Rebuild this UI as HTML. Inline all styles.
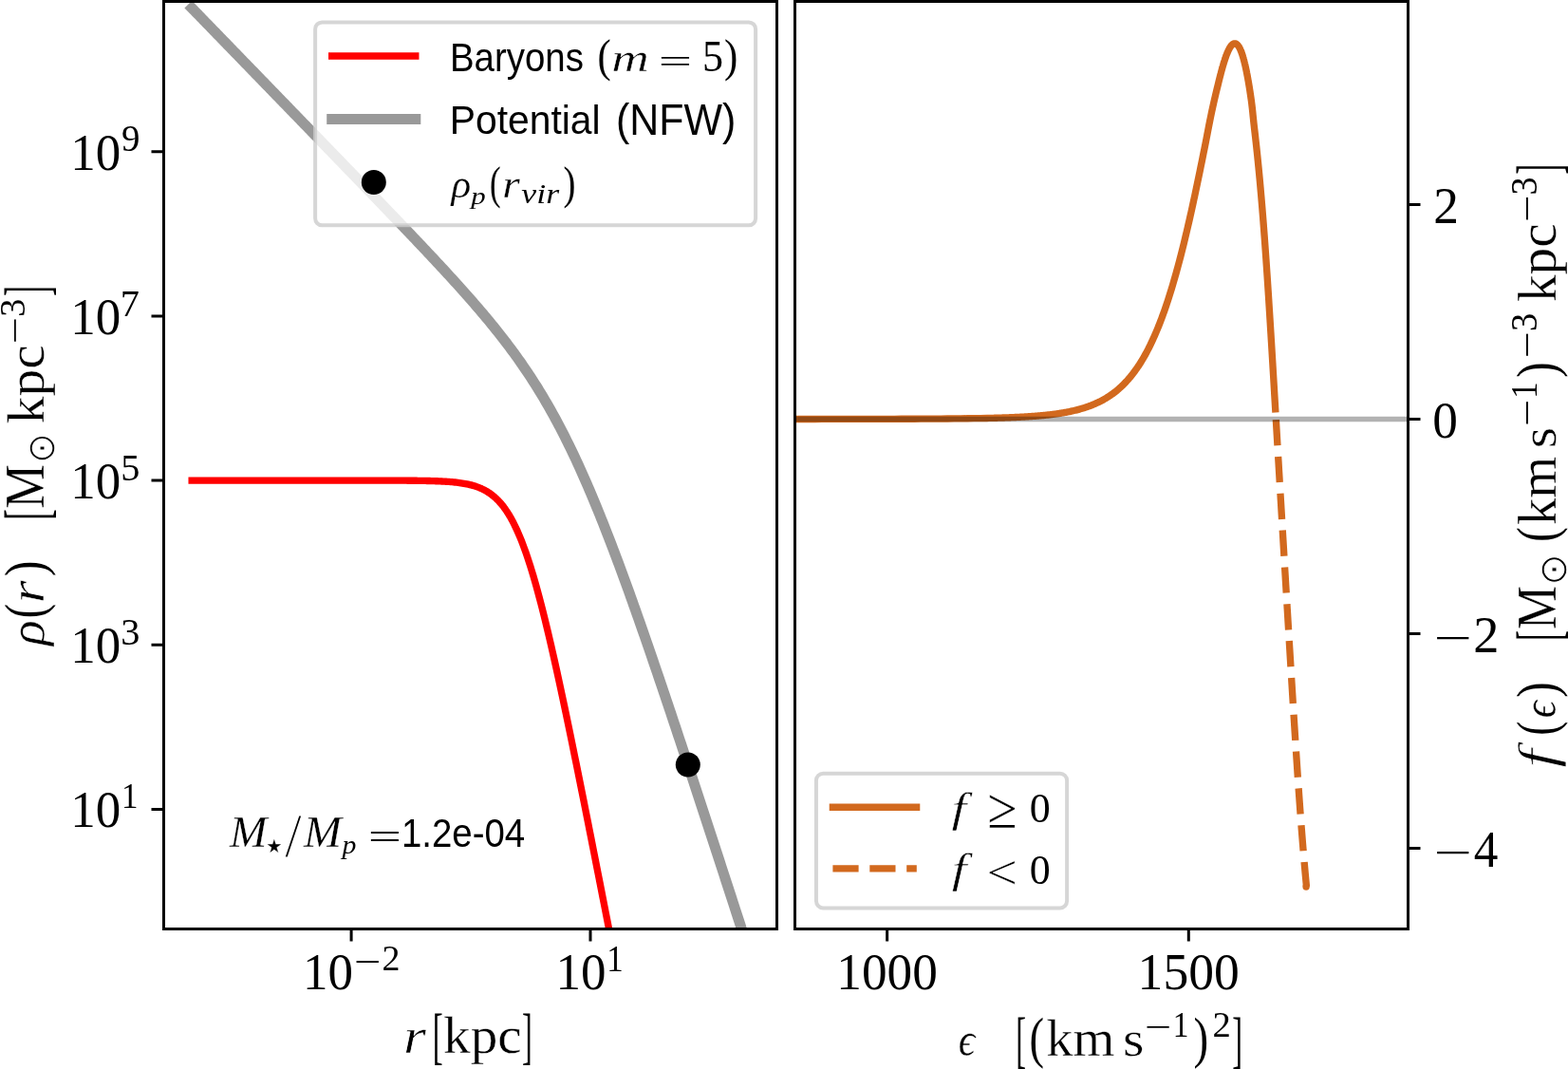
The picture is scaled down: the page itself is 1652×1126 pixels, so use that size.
<!DOCTYPE html>
<html lang="en"><head><meta charset="utf-8"><title>Density profiles and distribution function</title>
<style>
html,body{margin:0;padding:0;background:#fff}
body{width:1652px;height:1126px}
svg{display:block}
text.r{font-family:"Liberation Serif","DejaVu Serif",serif}
text.i{font-family:"Liberation Serif","DejaVu Serif",serif;font-style:italic}
text.s{font-family:"Liberation Sans","DejaVu Sans",sans-serif}
text.d{font-family:"DejaVu Sans","Liberation Sans",sans-serif}
</style></head>
<body>
<svg width="1652" height="1126" viewBox="0 0 1652 1126">
<defs><clipPath id="c1"><rect x="172.5" y="1.5" width="646.0" height="977.0"/></clipPath><clipPath id="c2"><rect x="837.5" y="1.5" width="646.0" height="977.0"/></clipPath></defs>
<rect width="1652" height="1126" fill="#fff"/>
<g clip-path="url(#c1)" fill="none" stroke-linejoin="round">
<path d="M202.15,506.08 L203.71,506.08 L205.26,506.08 L206.82,506.08 L208.38,506.08 L209.94,506.08 L211.49,506.08 L213.05,506.08 L214.61,506.08 L216.17,506.08 L217.72,506.08 L219.28,506.08 L220.84,506.08 L222.40,506.08 L223.95,506.08 L225.51,506.08 L227.07,506.08 L228.62,506.08 L230.18,506.08 L231.74,506.08 L233.30,506.08 L234.85,506.08 L236.41,506.08 L237.97,506.08 L239.53,506.08 L241.08,506.08 L242.64,506.08 L244.20,506.08 L245.76,506.08 L247.31,506.08 L248.87,506.08 L250.43,506.08 L251.98,506.08 L253.54,506.08 L255.10,506.08 L256.66,506.08 L258.21,506.08 L259.77,506.08 L261.33,506.08 L262.89,506.08 L264.44,506.08 L266.00,506.08 L267.56,506.08 L269.12,506.08 L270.67,506.08 L272.23,506.08 L273.79,506.08 L275.34,506.08 L276.90,506.08 L278.46,506.08 L280.02,506.08 L281.57,506.08 L283.13,506.08 L284.69,506.08 L286.25,506.08 L287.80,506.08 L289.36,506.08 L290.92,506.08 L292.48,506.08 L294.03,506.08 L295.59,506.08 L297.15,506.08 L298.70,506.08 L300.26,506.08 L301.82,506.08 L303.38,506.08 L304.93,506.08 L306.49,506.08 L308.05,506.08 L309.61,506.08 L311.16,506.08 L312.72,506.08 L314.28,506.08 L315.84,506.08 L317.39,506.08 L318.95,506.08 L320.51,506.08 L322.07,506.08 L323.62,506.08 L325.18,506.08 L326.74,506.08 L328.29,506.08 L329.85,506.08 L331.41,506.08 L332.97,506.08 L334.52,506.08 L336.08,506.08 L337.64,506.08 L339.20,506.08 L340.75,506.08 L342.31,506.08 L343.87,506.08 L345.43,506.08 L346.98,506.08 L348.54,506.08 L350.10,506.08 L351.65,506.08 L353.21,506.08 L354.77,506.08 L356.33,506.08 L357.88,506.08 L359.44,506.08 L361.00,506.08 L362.56,506.08 L364.11,506.08 L365.67,506.08 L367.23,506.08 L368.79,506.08 L370.34,506.08 L371.90,506.09 L373.46,506.09 L375.01,506.09 L376.57,506.09 L378.13,506.09 L379.69,506.09 L381.24,506.09 L382.80,506.09 L384.36,506.09 L385.92,506.09 L387.47,506.09 L389.03,506.09 L390.59,506.09 L392.15,506.10 L393.70,506.10 L395.26,506.10 L396.82,506.10 L398.37,506.10 L399.93,506.10 L401.49,506.11 L403.05,506.11 L404.60,506.11 L406.16,506.12 L407.72,506.12 L409.28,506.12 L410.83,506.13 L412.39,506.13 L413.95,506.13 L415.51,506.14 L417.06,506.14 L418.62,506.15 L420.18,506.16 L421.73,506.16 L423.29,506.17 L424.85,506.18 L426.41,506.19 L427.96,506.20 L429.52,506.21 L431.08,506.22 L432.64,506.23 L434.19,506.24 L435.75,506.26 L437.31,506.27 L438.87,506.29 L440.42,506.31 L441.98,506.33 L443.54,506.35 L445.09,506.38 L446.65,506.40 L448.21,506.43 L449.77,506.46 L451.32,506.50 L452.88,506.53 L454.44,506.58 L456.00,506.62 L457.55,506.67 L459.11,506.72 L460.67,506.78 L462.23,506.84 L463.78,506.91 L465.34,506.98 L466.90,507.06 L468.45,507.15 L470.01,507.24 L471.57,507.34 L473.13,507.45 L474.68,507.58 L476.24,507.71 L477.80,507.85 L479.36,508.01 L480.91,508.18 L482.47,508.36 L484.03,508.56 L485.59,508.78 L487.14,509.02 L488.70,509.28 L490.26,509.56 L491.81,509.86 L493.37,510.19 L494.93,510.55 L496.49,510.94 L498.04,511.36 L499.60,511.81 L501.16,512.31 L502.72,512.85 L504.27,513.43 L505.83,514.05 L507.39,514.73 L508.95,515.47 L510.50,516.26 L512.06,517.12 L513.62,518.04 L515.18,519.04 L516.73,520.11 L518.29,521.26 L519.85,522.51 L521.40,523.84 L522.96,525.27 L524.52,526.81 L526.08,528.45 L527.63,530.21 L529.19,532.09 L530.75,534.09 L532.31,536.23 L533.86,538.50 L535.42,540.91 L536.98,543.47 L538.54,546.19 L540.09,549.05 L541.65,552.08 L543.21,555.27 L544.76,558.62 L546.32,562.14 L547.88,565.84 L549.44,569.70 L550.99,573.73 L552.55,577.94 L554.11,582.31 L555.67,586.86 L557.22,591.57 L558.78,596.45 L560.34,601.49 L561.90,606.68 L563.45,612.03 L565.01,617.54 L566.57,623.18 L568.12,628.97 L569.68,634.90 L571.24,640.95 L572.80,647.13 L574.35,653.42 L575.91,659.83 L577.47,666.35 L579.03,672.97 L580.58,679.69 L582.14,686.49 L583.70,693.39 L585.26,700.36 L586.81,707.41 L588.37,714.53 L589.93,721.72 L591.48,728.97 L593.04,736.27 L594.60,743.63 L596.16,751.05 L597.71,758.50 L599.27,766.01 L600.83,773.55 L602.39,781.13 L603.94,788.75 L605.50,796.39 L607.06,804.07 L608.62,811.78 L610.17,819.51 L611.73,827.26 L613.29,835.04 L614.84,842.83 L616.40,850.65 L617.96,858.48 L619.52,866.32 L621.07,874.19 L622.63,882.06 L624.19,889.95 L625.75,897.85 L627.30,905.76 L628.86,913.68 L630.42,921.61 L631.98,929.54 L633.53,937.48 L635.09,945.44 L636.65,953.39 L638.20,961.35 L639.76,969.32 L641.32,977.30 L642.88,985.27 L644.43,993.26 L645.99,1001.24 L647.55,1009.23 L649.11,1017.22 L650.66,1025.22 L652.22,1033.22 L653.78,1041.22 L655.34,1049.22 L656.89,1057.22 L658.45,1065.23 L660.01,1073.24 L661.56,1081.25 L663.12,1089.26 L664.68,1097.27" stroke="#ff0000" stroke-width="7.35" stroke-linecap="square"/>
<path d="M202.15,8.50 L203.71,10.11 L205.26,11.72 L206.82,13.32 L208.38,14.93 L209.94,16.53 L211.49,18.14 L213.05,19.74 L214.61,21.35 L216.17,22.96 L217.72,24.56 L219.28,26.17 L220.84,27.77 L222.40,29.38 L223.95,30.99 L225.51,32.59 L227.07,34.20 L228.62,35.80 L230.18,37.41 L231.74,39.01 L233.30,40.62 L234.85,42.23 L236.41,43.83 L237.97,45.44 L239.53,47.04 L241.08,48.65 L242.64,50.26 L244.20,51.86 L245.76,53.47 L247.31,55.07 L248.87,56.68 L250.43,58.29 L251.98,59.89 L253.54,61.50 L255.10,63.10 L256.66,64.71 L258.21,66.32 L259.77,67.92 L261.33,69.53 L262.89,71.13 L264.44,72.74 L266.00,74.35 L267.56,75.95 L269.12,77.56 L270.67,79.16 L272.23,80.77 L273.79,82.38 L275.34,83.98 L276.90,85.59 L278.46,87.20 L280.02,88.80 L281.57,90.41 L283.13,92.01 L284.69,93.62 L286.25,95.23 L287.80,96.83 L289.36,98.44 L290.92,100.05 L292.48,101.65 L294.03,103.26 L295.59,104.86 L297.15,106.47 L298.70,108.08 L300.26,109.68 L301.82,111.29 L303.38,112.90 L304.93,114.50 L306.49,116.11 L308.05,117.72 L309.61,119.32 L311.16,120.93 L312.72,122.54 L314.28,124.15 L315.84,125.75 L317.39,127.36 L318.95,128.97 L320.51,130.57 L322.07,132.18 L323.62,133.79 L325.18,135.40 L326.74,137.00 L328.29,138.61 L329.85,140.22 L331.41,141.83 L332.97,143.43 L334.52,145.04 L336.08,146.65 L337.64,148.26 L339.20,149.87 L340.75,151.47 L342.31,153.08 L343.87,154.69 L345.43,156.30 L346.98,157.91 L348.54,159.52 L350.10,161.13 L351.65,162.74 L353.21,164.34 L354.77,165.95 L356.33,167.56 L357.88,169.17 L359.44,170.78 L361.00,172.39 L362.56,174.00 L364.11,175.61 L365.67,177.22 L367.23,178.84 L368.79,180.45 L370.34,182.06 L371.90,183.67 L373.46,185.28 L375.01,186.89 L376.57,188.51 L378.13,190.12 L379.69,191.73 L381.24,193.35 L382.80,194.96 L384.36,196.57 L385.92,198.19 L387.47,199.80 L389.03,201.42 L390.59,203.03 L392.15,204.65 L393.70,206.27 L395.26,207.88 L396.82,209.50 L398.37,211.12 L399.93,212.74 L401.49,214.36 L403.05,215.97 L404.60,217.59 L406.16,219.22 L407.72,220.84 L409.28,222.46 L410.83,224.08 L412.39,225.71 L413.95,227.33 L415.51,228.95 L417.06,230.58 L418.62,232.21 L420.18,233.84 L421.73,235.46 L423.29,237.09 L424.85,238.72 L426.41,240.36 L427.96,241.99 L429.52,243.62 L431.08,245.26 L432.64,246.90 L434.19,248.53 L435.75,250.17 L437.31,251.81 L438.87,253.46 L440.42,255.10 L441.98,256.75 L443.54,258.39 L445.09,260.04 L446.65,261.69 L448.21,263.35 L449.77,265.00 L451.32,266.66 L452.88,268.32 L454.44,269.98 L456.00,271.64 L457.55,273.31 L459.11,274.98 L460.67,276.65 L462.23,278.32 L463.78,280.00 L465.34,281.68 L466.90,283.36 L468.45,285.05 L470.01,286.74 L471.57,288.44 L473.13,290.13 L474.68,291.84 L476.24,293.54 L477.80,295.25 L479.36,296.97 L480.91,298.68 L482.47,300.41 L484.03,302.14 L485.59,303.87 L487.14,305.61 L488.70,307.35 L490.26,309.10 L491.81,310.86 L493.37,312.62 L494.93,314.39 L496.49,316.17 L498.04,317.95 L499.60,319.74 L501.16,321.54 L502.72,323.35 L504.27,325.16 L505.83,326.98 L507.39,328.81 L508.95,330.65 L510.50,332.50 L512.06,334.36 L513.62,336.23 L515.18,338.11 L516.73,340.00 L518.29,341.90 L519.85,343.82 L521.40,345.74 L522.96,347.68 L524.52,349.63 L526.08,351.60 L527.63,353.58 L529.19,355.57 L530.75,357.58 L532.31,359.60 L533.86,361.64 L535.42,363.70 L536.98,365.77 L538.54,367.86 L540.09,369.97 L541.65,372.09 L543.21,374.23 L544.76,376.40 L546.32,378.58 L547.88,380.79 L549.44,383.01 L550.99,385.26 L552.55,387.53 L554.11,389.82 L555.67,392.13 L557.22,394.47 L558.78,396.84 L560.34,399.23 L561.90,401.64 L563.45,404.08 L565.01,406.55 L566.57,409.04 L568.12,411.56 L569.68,414.11 L571.24,416.69 L572.80,419.30 L574.35,421.94 L575.91,424.60 L577.47,427.30 L579.03,430.03 L580.58,432.79 L582.14,435.58 L583.70,438.41 L585.26,441.26 L586.81,444.15 L588.37,447.08 L589.93,450.03 L591.48,453.02 L593.04,456.05 L594.60,459.10 L596.16,462.19 L597.71,465.32 L599.27,468.48 L600.83,471.67 L602.39,474.90 L603.94,478.16 L605.50,481.46 L607.06,484.79 L608.62,488.15 L610.17,491.55 L611.73,494.99 L613.29,498.45 L614.84,501.95 L616.40,505.48 L617.96,509.05 L619.52,512.65 L621.07,516.27 L622.63,519.94 L624.19,523.63 L625.75,527.35 L627.30,531.11 L628.86,534.89 L630.42,538.71 L631.98,542.55 L633.53,546.42 L635.09,550.32 L636.65,554.25 L638.20,558.21 L639.76,562.19 L641.32,566.20 L642.88,570.23 L644.43,574.29 L645.99,578.37 L647.55,582.48 L649.11,586.61 L650.66,590.76 L652.22,594.94 L653.78,599.13 L655.34,603.35 L656.89,607.59 L658.45,611.85 L660.01,616.13 L661.56,620.42 L663.12,624.74 L664.68,629.07 L666.24,633.42 L667.79,637.79 L669.35,642.17 L670.91,646.57 L672.47,650.99 L674.02,655.42 L675.58,659.86 L677.14,664.32 L678.70,668.79 L680.25,673.27 L681.81,677.77 L683.37,682.28 L684.92,686.80 L686.48,691.33 L688.04,695.87 L689.60,700.42 L691.15,704.99 L692.71,709.56 L694.27,714.14 L695.83,718.74 L697.38,723.34 L698.94,727.94 L700.50,732.56 L702.06,737.19 L703.61,741.82 L705.17,746.46 L706.73,751.11 L708.28,755.76 L709.84,760.42 L711.40,765.09 L712.96,769.76 L714.51,774.44 L716.07,779.12 L717.63,783.81 L719.19,788.50 L720.74,793.20 L722.30,797.91 L723.86,802.61 L725.42,807.33 L726.97,812.05 L728.53,816.77 L730.09,821.49 L731.65,826.22 L733.20,830.95 L734.76,835.69 L736.32,840.43 L737.87,845.17 L739.43,849.92 L740.99,854.66 L742.55,859.42 L744.10,864.17 L745.66,868.93 L747.22,873.68 L748.78,878.45 L750.33,883.21 L751.89,887.98 L753.45,892.74 L755.01,897.51 L756.56,902.29 L758.12,907.06 L759.68,911.84 L761.23,916.61 L762.79,921.39 L764.35,926.17 L765.91,930.95 L767.46,935.74 L769.02,940.52 L770.58,945.31 L772.14,950.10 L773.69,954.89 L775.25,959.68 L776.81,964.47 L778.37,969.26 L779.92,974.05 L781.48,978.85 L783.04,983.64 L784.59,988.44 L786.15,993.23 L787.71,998.03 L789.27,1002.83 L790.82,1007.63 L792.38,1012.43 L793.94,1017.23 L795.50,1022.03 L797.05,1026.84 L798.61,1031.64 L800.17,1036.44 L801.73,1041.25 L803.28,1046.05 L804.84,1050.86 L806.40,1055.66 L807.95,1060.47 L809.51,1065.27 L811.07,1070.08 L812.63,1074.89 L814.18,1079.70 L815.74,1084.50 L817.30,1089.31 L818.86,1094.12 L820.41,1098.93" stroke="#000" stroke-opacity="0.4" stroke-width="11" stroke-linecap="square"/>
<circle cx="724.8" cy="805.5" r="13" fill="#000" stroke="none"/>
</g>
<g clip-path="url(#c2)" fill="none" stroke-linejoin="round">
<path d="M838.00,441.46 L844.97,441.46 L851.93,441.46 L858.90,441.45 L865.86,441.44 L872.83,441.44 L879.79,441.43 L886.76,441.42 L893.72,441.41 L900.69,441.40 L907.66,441.39 L914.62,441.37 L921.59,441.36 L928.55,441.34 L935.52,441.32 L942.48,441.30 L949.45,441.27 L956.41,441.25 L963.38,441.22 L970.34,441.18 L977.31,441.14 L984.28,441.10 L991.24,441.05 L998.21,440.99 L1005.17,440.93 L1012.14,440.86 L1019.10,440.78 L1026.07,440.69 L1033.03,440.59 L1040.00,440.48 L1042.00,440.44 L1042.94,440.41 L1043.88,440.39 L1044.83,440.37 L1045.77,440.34 L1046.71,440.32 L1047.65,440.29 L1048.59,440.27 L1049.54,440.24 L1050.48,440.21 L1051.42,440.18 L1052.36,440.16 L1053.31,440.13 L1054.25,440.10 L1055.19,440.07 L1056.13,440.04 L1057.07,440.01 L1058.02,439.97 L1058.96,439.94 L1059.90,439.91 L1060.84,439.87 L1061.78,439.84 L1062.73,439.80 L1063.67,439.77 L1064.61,439.73 L1065.55,439.69 L1066.49,439.65 L1067.44,439.61 L1068.38,439.57 L1069.32,439.53 L1070.26,439.48 L1071.20,439.44 L1072.15,439.40 L1073.09,439.35 L1074.03,439.30 L1074.97,439.25 L1075.92,439.20 L1076.86,439.15 L1077.80,439.10 L1078.74,439.05 L1079.68,438.99 L1080.63,438.94 L1081.57,438.88 L1082.51,438.82 L1083.45,438.76 L1084.39,438.70 L1085.34,438.64 L1086.28,438.57 L1087.22,438.51 L1088.16,438.44 L1089.10,438.37 L1090.05,438.30 L1090.99,438.23 L1091.93,438.15 L1092.87,438.08 L1093.81,438.00 L1094.76,437.92 L1095.70,437.84 L1096.64,437.75 L1097.58,437.67 L1098.53,437.58 L1099.47,437.49 L1100.41,437.39 L1101.35,437.30 L1102.29,437.20 L1103.24,437.10 L1104.18,437.00 L1105.12,436.89 L1106.06,436.78 L1107.00,436.67 L1107.95,436.56 L1108.89,436.44 L1109.83,436.32 L1110.77,436.20 L1111.71,436.07 L1112.66,435.95 L1113.60,435.81 L1114.54,435.68 L1115.48,435.54 L1116.42,435.39 L1117.37,435.25 L1118.31,435.10 L1119.25,434.94 L1120.19,434.78 L1121.14,434.62 L1122.08,434.45 L1123.02,434.28 L1123.96,434.10 L1124.90,433.92 L1125.85,433.74 L1126.79,433.55 L1127.73,433.35 L1128.67,433.15 L1129.61,432.95 L1130.56,432.73 L1131.50,432.52 L1132.44,432.29 L1133.38,432.06 L1134.32,431.83 L1135.27,431.59 L1136.21,431.34 L1137.15,431.09 L1138.09,430.83 L1139.03,430.56 L1139.98,430.28 L1140.92,430.00 L1141.86,429.71 L1142.80,429.41 L1143.75,429.11 L1144.69,428.79 L1145.63,428.47 L1146.57,428.14 L1147.51,427.80 L1148.46,427.45 L1149.40,427.09 L1150.34,426.72 L1151.28,426.34 L1152.22,425.95 L1153.17,425.56 L1154.11,425.15 L1155.05,424.73 L1155.99,424.29 L1156.93,423.85 L1157.88,423.40 L1158.82,422.93 L1159.76,422.45 L1160.70,421.96 L1161.64,421.45 L1162.59,420.93 L1163.53,420.40 L1164.47,419.85 L1165.41,419.29 L1166.36,418.71 L1167.30,418.12 L1168.24,417.51 L1169.18,416.89 L1170.12,416.25 L1171.07,415.59 L1172.01,414.91 L1172.95,414.22 L1173.89,413.51 L1174.83,412.78 L1175.78,412.03 L1176.72,411.27 L1177.66,410.48 L1178.60,409.67 L1179.54,408.84 L1180.49,407.99 L1181.43,407.11 L1182.37,406.22 L1183.31,405.30 L1184.25,404.36 L1185.20,403.39 L1186.14,402.40 L1187.08,401.38 L1188.02,400.34 L1188.97,399.27 L1189.91,398.18 L1190.85,397.05 L1191.79,395.90 L1192.73,394.72 L1193.68,393.51 L1194.62,392.27 L1195.56,391.00 L1196.50,389.70 L1197.44,388.37 L1198.39,387.00 L1199.33,385.60 L1200.27,384.17 L1201.21,382.70 L1202.15,381.20 L1203.10,379.66 L1204.04,378.09 L1204.98,376.47 L1205.92,374.82 L1206.86,373.14 L1207.81,371.41 L1208.75,369.64 L1209.69,367.84 L1210.63,365.99 L1211.58,364.10 L1212.52,362.16 L1213.46,360.19 L1214.40,358.17 L1215.34,356.10 L1216.29,353.99 L1217.23,351.84 L1218.17,349.64 L1219.11,347.39 L1220.05,345.09 L1221.00,342.75 L1221.94,340.36 L1222.88,337.92 L1223.82,335.43 L1224.76,332.89 L1225.71,330.29 L1226.65,327.65 L1227.59,324.96 L1228.53,322.21 L1229.47,319.41 L1230.42,316.56 L1231.36,313.65 L1232.30,310.70 L1233.24,307.68 L1234.19,304.62 L1235.13,301.50 L1236.07,298.32 L1237.01,295.09 L1237.95,291.81 L1238.90,288.47 L1239.84,285.08 L1240.78,281.64 L1241.72,278.14 L1242.66,274.58 L1243.61,270.98 L1244.55,267.31 L1245.49,263.60 L1246.43,259.83 L1247.37,256.01 L1248.32,252.14 L1249.26,248.22 L1250.20,244.25 L1251.14,240.23 L1252.08,236.16 L1253.03,232.05 L1253.97,227.88 L1254.91,223.68 L1255.85,219.42 L1256.80,215.13 L1257.74,210.79 L1258.68,206.42 L1259.62,202.00 L1260.56,197.55 L1261.51,193.06 L1262.45,188.54 L1263.39,183.99 L1264.33,179.41 L1265.27,174.81 L1266.22,170.18 L1267.16,165.52 L1268.10,160.85 L1269.04,156.16 L1269.98,151.45 L1270.93,146.65 L1271.87,141.76 L1272.81,136.86 L1273.75,132.02 L1274.69,127.27 L1275.64,122.63 L1276.58,118.12 L1277.52,113.73 L1278.46,109.45 L1279.41,105.29 L1280.35,101.23 L1281.29,97.26 L1282.23,93.36 L1283.17,89.51 L1284.12,85.67 L1285.06,81.89 L1286.00,78.23 L1286.10,77.85 L1286.20,77.48 L1286.29,77.11 L1286.39,76.74 L1286.49,76.37 L1286.59,76.01 L1286.68,75.64 L1286.78,75.28 L1286.88,74.91 L1286.98,74.55 L1287.08,74.19 L1287.17,73.84 L1287.27,73.48 L1287.37,73.13 L1287.47,72.77 L1287.56,72.42 L1287.66,72.07 L1287.76,71.72 L1287.86,71.38 L1287.95,71.03 L1288.05,70.69 L1288.15,70.35 L1288.25,70.01 L1288.35,69.67 L1288.44,69.33 L1288.54,69.00 L1288.64,68.67 L1288.74,68.33 L1288.83,68.01 L1288.93,67.68 L1289.03,67.35 L1289.13,67.03 L1289.23,66.71 L1289.32,66.39 L1289.42,66.07 L1289.52,65.75 L1289.62,65.44 L1289.71,65.13 L1289.81,64.82 L1289.91,64.51 L1290.01,64.20 L1290.11,63.90 L1290.20,63.60 L1290.30,63.30 L1290.40,63.00 L1290.50,62.70 L1290.59,62.41 L1290.69,62.12 L1290.79,61.83 L1290.89,61.54 L1290.98,61.25 L1291.08,60.97 L1291.18,60.69 L1291.28,60.41 L1291.38,60.13 L1291.47,59.86 L1291.57,59.59 L1291.67,59.32 L1291.77,59.05 L1291.86,58.78 L1291.96,58.52 L1292.06,58.26 L1292.16,58.00 L1292.26,57.74 L1292.35,57.49 L1292.45,57.24 L1292.55,56.99 L1292.65,56.74 L1292.74,56.50 L1292.84,56.26 L1292.94,56.02 L1293.04,55.78 L1293.14,55.54 L1293.23,55.31 L1293.33,55.08 L1293.43,54.86 L1293.53,54.63 L1293.62,54.41 L1293.72,54.19 L1293.82,53.97 L1293.92,53.76 L1294.02,53.54 L1294.11,53.34 L1294.21,53.13 L1294.31,52.92 L1294.41,52.72 L1294.50,52.52 L1294.60,52.33 L1294.70,52.13 L1294.80,51.94 L1294.89,51.75 L1294.99,51.57 L1295.09,51.39 L1295.19,51.21 L1295.29,51.03 L1295.38,50.85 L1295.48,50.68 L1295.58,50.51 L1295.68,50.35 L1295.77,50.18 L1295.87,50.02 L1295.97,49.86 L1296.07,49.71 L1296.17,49.56 L1296.26,49.41 L1296.36,49.26 L1296.46,49.12 L1296.56,48.97 L1296.65,48.84 L1296.75,48.70 L1296.85,48.57 L1296.95,48.44 L1297.05,48.31 L1297.14,48.19 L1297.24,48.07 L1297.34,47.95 L1297.44,47.84 L1297.53,47.73 L1297.63,47.62 L1297.73,47.51 L1297.83,47.41 L1297.92,47.31 L1298.02,47.22 L1298.12,47.12 L1298.22,47.03 L1298.32,46.94 L1298.41,46.86 L1298.51,46.78 L1298.61,46.70 L1298.71,46.63 L1298.80,46.56 L1298.90,46.49 L1299.00,46.42 L1299.10,46.36 L1299.20,46.30 L1299.29,46.25 L1299.39,46.19 L1299.49,46.15 L1299.59,46.10 L1299.68,46.06 L1299.78,46.02 L1299.88,45.98 L1299.98,45.95 L1300.08,45.92 L1300.17,45.89 L1300.27,45.87 L1300.37,45.85 L1300.47,45.83 L1300.56,45.82 L1300.66,45.81 L1300.76,45.80 L1300.86,45.80 L1300.95,45.80 L1301.05,45.80 L1301.15,45.81 L1301.25,45.82 L1301.35,45.84 L1301.44,45.85 L1301.54,45.87 L1301.64,45.90 L1301.74,45.92 L1301.83,45.95 L1301.93,45.99 L1302.03,46.03 L1302.13,46.07 L1302.23,46.11 L1302.32,46.16 L1302.42,46.21 L1302.52,46.27 L1302.62,46.33 L1302.71,46.39 L1302.81,46.45 L1302.91,46.52 L1303.01,46.60 L1303.11,46.67 L1303.20,46.75 L1303.30,46.84 L1303.40,46.92 L1303.50,47.01 L1303.59,47.11 L1303.69,47.20 L1303.79,47.31 L1303.89,47.41 L1303.98,47.52 L1304.08,47.63 L1304.18,47.75 L1304.28,47.87 L1304.38,47.99 L1304.47,48.12 L1304.57,48.25 L1304.67,48.38 L1304.77,48.52 L1304.86,48.66 L1304.96,48.81 L1305.06,48.95 L1305.16,49.11 L1305.26,49.26 L1305.35,49.42 L1305.45,49.59 L1305.55,49.75 L1305.65,49.93 L1305.74,50.10 L1305.84,50.28 L1305.94,50.46 L1306.04,50.65 L1306.14,50.84 L1306.23,51.03 L1306.33,51.23 L1306.43,51.43 L1306.53,51.63 L1306.62,51.84 L1306.72,52.06 L1306.82,52.27 L1306.92,52.49 L1307.02,52.72 L1307.11,52.95 L1307.21,53.18 L1307.31,53.41 L1307.41,53.65 L1307.50,53.90 L1307.60,54.14 L1307.70,54.39 L1307.80,54.65 L1307.89,54.91 L1307.99,55.17 L1308.09,55.44 L1308.19,55.71 L1308.29,55.98 L1308.38,56.26 L1308.48,56.54 L1308.58,56.83 L1308.68,57.12 L1308.77,57.41 L1308.87,57.71 L1308.97,58.01 L1309.07,58.32 L1309.17,58.63 L1309.26,58.94 L1309.36,59.26 L1309.46,59.58 L1309.56,59.91 L1309.65,60.24 L1309.75,60.57 L1309.85,60.91 L1309.95,61.25 L1310.05,61.60 L1310.14,61.95 L1310.24,62.30 L1310.34,62.66 L1310.44,63.02 L1310.53,63.38 L1310.63,63.75 L1310.73,64.13 L1310.83,64.50 L1310.92,64.89 L1311.02,65.27 L1311.12,65.66 L1311.22,66.06 L1311.32,66.45 L1311.41,66.86 L1311.51,67.26 L1311.61,67.67 L1311.71,68.08 L1311.80,68.50 L1311.90,68.93 L1312.00,69.35 L1312.10,69.78 L1312.20,70.22 L1312.29,70.65 L1312.39,71.10 L1312.49,71.54 L1312.59,71.99 L1312.68,72.45 L1312.78,72.91 L1312.88,73.37 L1312.98,73.84 L1313.08,74.31 L1313.17,74.78 L1313.27,75.26 L1313.37,75.75 L1313.47,76.23 L1313.56,76.73 L1313.66,77.22 L1313.76,77.72 L1313.86,78.23 L1313.95,78.73 L1314.05,79.25 L1314.15,79.76 L1314.25,80.28 L1314.35,80.81 L1314.44,81.34 L1314.54,81.87 L1314.64,82.41 L1314.74,82.95 L1314.83,83.49 L1314.93,84.04 L1315.03,84.60 L1315.13,85.15 L1315.23,85.72 L1315.32,86.28 L1315.42,86.85 L1315.52,87.43 L1315.62,88.00 L1315.71,88.59 L1315.81,89.17 L1315.91,89.77 L1316.01,90.36 L1316.11,90.96 L1316.20,91.56 L1316.30,92.17 L1316.40,92.78 L1316.50,93.40 L1316.59,94.02 L1316.69,94.64 L1316.79,95.27 L1316.89,95.90 L1316.98,96.54 L1317.08,97.18 L1317.18,97.83 L1317.28,98.48 L1317.38,99.13 L1317.47,99.79 L1317.57,100.45 L1317.67,101.12 L1317.77,101.79 L1317.86,102.46 L1317.96,103.14 L1318.06,103.82 L1318.16,104.51 L1318.23,105.00 L1318.37,106.03 L1318.51,107.07 L1318.64,108.10 L1318.77,109.14 L1318.90,110.17 L1319.02,111.21 L1319.14,112.24 L1319.26,113.28 L1319.37,114.31 L1319.48,115.34 L1319.59,116.38 L1319.70,117.41 L1319.81,118.45 L1319.91,119.48 L1320.02,120.52 L1320.12,121.55 L1320.22,122.59 L1320.33,123.62 L1320.43,124.66 L1320.54,125.69 L1320.64,126.72 L1320.75,127.76 L1320.86,128.79 L1320.97,129.83 L1321.08,130.86 L1321.19,131.90 L1321.31,132.93 L1321.43,133.97 L1321.55,135.00 L1321.73,136.51 L1321.90,138.01 L1322.08,139.52 L1322.25,141.02 L1322.42,142.53 L1322.60,144.03 L1322.77,145.54 L1322.93,147.04 L1323.10,148.55 L1323.27,150.05 L1323.43,151.56 L1323.60,153.06 L1323.76,154.57 L1323.92,156.07 L1324.08,157.58 L1324.24,159.08 L1324.40,160.59 L1324.56,162.09 L1324.71,163.60 L1324.87,165.10 L1325.02,166.61 L1325.17,168.11 L1325.33,169.62 L1325.48,171.12 L1325.63,172.63 L1325.77,174.13 L1325.92,175.64 L1326.07,177.14 L1326.21,178.65 L1326.36,180.15 L1326.50,181.66 L1326.65,183.16 L1326.79,184.67 L1326.93,186.17 L1327.07,187.68 L1327.21,189.18 L1327.35,190.69 L1327.49,192.19 L1327.62,193.70 L1327.76,195.20 L1327.89,196.71 L1328.03,198.21 L1328.16,199.72 L1328.29,201.22 L1328.43,202.73 L1328.56,204.23 L1328.69,205.74 L1328.82,207.24 L1328.95,208.75 L1329.07,210.25 L1329.20,211.76 L1329.33,213.26 L1329.45,214.77 L1329.58,216.27 L1329.70,217.78 L1329.83,219.28 L1329.95,220.79 L1330.07,222.29 L1330.19,223.80 L1330.32,225.30 L1330.44,226.81 L1330.56,228.31 L1330.68,229.82 L1330.79,231.32 L1330.91,232.83 L1331.03,234.33 L1331.15,235.84 L1331.26,237.34 L1331.38,238.85 L1331.49,240.35 L1331.61,241.86 L1331.72,243.36 L1331.84,244.87 L1331.95,246.37 L1332.06,247.88 L1332.18,249.38 L1332.29,250.89 L1332.40,252.39 L1332.51,253.90 L1332.62,255.40 L1332.73,256.91 L1332.84,258.41 L1332.95,259.92 L1333.05,261.42 L1333.16,262.93 L1333.27,264.43 L1333.38,265.94 L1333.48,267.44 L1333.59,268.95 L1333.70,270.45 L1333.80,271.96 L1333.91,273.46 L1334.01,274.97 L1334.11,276.47 L1334.22,277.98 L1334.32,279.48 L1334.43,280.99 L1334.53,282.49 L1334.63,284.00 L1334.73,285.50 L1334.83,287.01 L1334.94,288.51 L1335.04,290.02 L1335.14,291.52 L1335.24,293.03 L1335.34,294.53 L1335.44,296.04 L1335.54,297.54 L1335.64,299.05 L1335.74,300.55 L1335.83,302.06 L1335.93,303.56 L1336.03,305.07 L1336.13,306.57 L1336.23,308.08 L1336.32,309.58 L1336.42,311.09 L1336.52,312.59 L1336.61,314.10 L1336.71,315.60 L1336.81,317.11 L1336.90,318.61 L1337.00,320.12 L1337.09,321.62 L1337.19,323.13 L1337.28,324.63 L1337.38,326.14 L1337.47,327.64 L1337.57,329.15 L1337.66,330.65 L1337.76,332.16 L1337.85,333.66 L1337.94,335.17 L1338.04,336.67 L1338.13,338.18 L1338.23,339.68 L1338.32,341.19 L1338.41,342.69 L1338.50,344.20 L1338.60,345.70 L1338.69,347.21 L1338.78,348.71 L1338.87,350.22 L1338.97,351.72 L1339.06,353.23 L1339.15,354.73 L1339.24,356.24 L1339.33,357.74 L1339.42,359.25 L1339.52,360.75 L1339.61,362.26 L1339.70,363.76 L1339.79,365.27 L1339.88,366.77 L1339.97,368.28 L1340.06,369.78 L1340.15,371.29 L1340.24,372.79 L1340.33,374.30 L1340.42,375.80 L1340.51,377.31 L1340.60,378.81 L1340.69,380.32 L1340.78,381.82 L1340.88,383.33 L1340.96,384.83 L1341.05,386.34 L1341.14,387.84 L1341.23,389.35 L1341.32,390.85 L1341.41,392.36 L1341.50,393.86 L1341.59,395.37 L1341.68,396.87 L1341.77,398.38 L1341.86,399.88 L1341.95,401.39 L1342.04,402.89 L1342.13,404.40 L1342.22,405.90 L1342.31,407.41 L1342.40,408.91 L1342.49,410.42 L1342.57,411.92 L1342.66,413.43 L1342.75,414.93 L1342.84,416.44 L1342.93,417.94 L1343.02,419.45 L1343.11,420.95 L1343.20,422.46 L1343.29,423.96 L1343.38,425.47 L1343.46,426.97 L1343.55,428.48 L1343.64,429.98 L1343.73,431.49 L1343.82,432.99 L1343.91,434.50" stroke="#d2691e" stroke-width="7.35" stroke-linecap="butt"/>
<path d="M1344.36,442.10 L1344.65,447.07 L1344.94,452.04 L1345.24,457.01 L1345.53,461.97 L1345.82,466.94 L1346.12,471.91 L1346.41,476.88 L1346.70,481.85 L1347.00,486.82 L1347.29,491.79 L1347.58,496.76 L1347.88,501.72 L1348.17,506.69 L1348.47,511.66 L1348.76,516.63 L1349.06,521.60 L1349.35,526.57 L1349.65,531.54 L1349.94,536.51 L1350.24,541.47 L1350.54,546.44 L1350.83,551.41 L1351.13,556.38 L1351.43,561.35 L1351.72,566.32 L1352.02,571.29 L1352.32,576.25 L1352.62,581.22 L1352.91,586.19 L1353.21,591.16 L1353.51,596.13 L1353.81,601.10 L1354.11,606.07 L1354.40,611.04 L1354.70,616.00 L1355.00,620.97 L1355.30,625.94 L1355.60,630.91 L1355.90,635.88 L1356.20,640.85 L1356.50,645.82 L1356.80,650.78 L1357.10,655.75 L1357.40,660.72 L1357.70,665.69 L1358.00,670.66 L1358.30,675.63 L1358.60,680.60 L1358.90,685.57 L1359.20,690.53 L1359.51,695.50 L1359.81,700.47 L1360.11,705.44 L1360.42,710.41 L1360.72,715.38 L1361.03,720.35 L1361.33,725.32 L1361.64,730.28 L1361.95,735.25 L1362.26,740.22 L1362.57,745.19 L1362.88,750.16 L1363.19,755.13 L1363.50,760.10 L1363.82,765.06 L1364.13,770.03 L1364.45,775.00 L1364.77,779.97 L1365.09,784.94 L1365.41,789.91 L1365.74,794.88 L1366.07,799.85 L1366.40,804.81 L1366.73,809.78 L1367.06,814.75 L1367.40,819.72 L1367.74,824.69 L1368.09,829.66 L1368.44,834.63 L1368.79,839.59 L1369.14,844.56 L1369.50,849.53 L1369.87,854.50 L1370.23,859.47 L1370.61,864.44 L1370.99,869.41 L1371.37,874.38 L1371.76,879.34 L1372.15,884.31 L1372.55,889.28 L1372.96,894.25 L1373.38,899.22 L1373.80,904.19 L1374.22,909.16 L1374.66,914.13 L1375.10,919.09 L1375.56,924.06 L1376.02,929.03 L1376.49,934.00" stroke="#d2691e" stroke-width="7.35" stroke-dasharray="27.2 11.7" stroke-linecap="butt"/>
<circle cx="1376.1" cy="934.1" r="3.675" fill="#d2691e"/>
<path d="M837.5,441.45 H1483.5" stroke="#000" stroke-opacity="0.3" stroke-width="5.5"/>
</g>
<path d="M172.5,159.76 h-13.0 M172.5,332.92 h-13.0 M172.5,506.08 h-13.0 M172.5,679.24 h-13.0 M172.5,852.40 h-13.0 M370.09,978.5 v13.0 M622.00,978.5 v13.0 M934.65,978.5 v13.0 M1252.30,978.5 v13.0 M1483.5,215.50 h13.0 M1483.5,441.50 h13.0 M1483.5,667.50 h13.0 M1483.5,893.50 h13.0" stroke="#000" stroke-width="3.0" fill="none"/>
<rect x="172.5" y="1.5" width="646.0" height="977.0" fill="none" stroke="#000" stroke-width="3.0" stroke-linejoin="miter"/>
<rect x="837.5" y="1.5" width="646.0" height="977.0" fill="none" stroke="#000" stroke-width="3.0" stroke-linejoin="miter"/>
<rect x="332.1" y="23.4" width="464.0" height="213.95" rx="7.3" ry="7.3" fill="#fff" fill-opacity="0.8" stroke="#ccc" stroke-opacity="0.8" stroke-width="4"/>
<path d="M349.7,59.0 H437.8" stroke="#ff0000" stroke-width="7.35" stroke-linecap="square"/>
<path d="M349.7,125.6 H437.8" stroke="#000" stroke-opacity="0.4" stroke-width="11" stroke-linecap="square"/>
<circle cx="393.8" cy="192.0" r="13" fill="#000"/>
<rect x="859.95" y="814.75" width="264.14999999999986" height="141.64999999999998" rx="7.3" ry="7.3" fill="#fff" fill-opacity="0.8" stroke="#ccc" stroke-opacity="0.8" stroke-width="4"/>
<path d="M877.4,850.2 H965.6" stroke="#d2691e" stroke-width="7.35" stroke-linecap="square"/>
<path d="M877.4,914.8 H965.8" stroke="#d2691e" stroke-width="7.35" stroke-dasharray="27.2 11.7"/>
<g fill="#000" font-size="100" style="font-kerning:none" stroke="#fff" stroke-linejoin="round">
<text class="r" transform="translate(74.36,178.76) scale(0.5300,0.5537)" vector-effect="non-scaling-stroke" stroke-width="0">10</text>
<text class="r" transform="translate(127.99,159.36) scale(0.3886,0.3929)" vector-effect="non-scaling-stroke" stroke-width="0">9</text>
<text class="r" transform="translate(74.36,351.92) scale(0.5300,0.5537)" vector-effect="non-scaling-stroke" stroke-width="0">10</text>
<text class="r" transform="translate(126.68,332.52) scale(0.4030,0.4023)" vector-effect="non-scaling-stroke" stroke-width="0">7</text>
<text class="r" transform="translate(74.36,525.08) scale(0.5300,0.5537)" vector-effect="non-scaling-stroke" stroke-width="0">10</text>
<text class="r" transform="translate(127.31,505.68) scale(0.4030,0.4023)" vector-effect="non-scaling-stroke" stroke-width="0">5</text>
<text class="r" transform="translate(74.36,698.24) scale(0.5300,0.5537)" vector-effect="non-scaling-stroke" stroke-width="0">10</text>
<text class="r" transform="translate(127.31,678.84) scale(0.4030,0.3929)" vector-effect="non-scaling-stroke" stroke-width="0">3</text>
<text class="r" transform="translate(74.36,871.40) scale(0.5300,0.5537)" vector-effect="non-scaling-stroke" stroke-width="0">10</text>
<text class="r" transform="translate(128.07,851.40) scale(0.3493,0.3885)" vector-effect="non-scaling-stroke" stroke-width="0">1</text>
<text class="r" transform="translate(318.96,1042.30) scale(0.5300,0.5492)" vector-effect="non-scaling-stroke" stroke-width="0">10</text>
<text class="r" transform="translate(373.04,1025.50) scale(0.5035,0.3840)" vector-effect="non-scaling-stroke" stroke-width="0">−</text>
<text class="r" transform="translate(402.51,1022.20) scale(0.3793,0.3825)" vector-effect="non-scaling-stroke" stroke-width="0">2</text>
<text class="r" transform="translate(585.46,1042.30) scale(0.5300,0.5492)" vector-effect="non-scaling-stroke" stroke-width="0">10</text>
<text class="r" transform="translate(639.17,1022.70) scale(0.3493,0.3900)" vector-effect="non-scaling-stroke" stroke-width="0">1</text>
<text class="r" transform="translate(881.34,1042.30) scale(0.5326,0.5522)" vector-effect="non-scaling-stroke" stroke-width="0">1000</text>
<text class="r" transform="translate(1198.62,1042.30) scale(0.5353,0.5522)" vector-effect="non-scaling-stroke" stroke-width="0">1500</text>
<text class="r" transform="translate(1510.13,234.60) scale(0.5333,0.5447)" vector-effect="non-scaling-stroke" stroke-width="0">2</text>
<text class="r" transform="translate(1509.34,460.84) scale(0.5326,0.5484)" vector-effect="non-scaling-stroke" stroke-width="0">0</text>
<text class="r" transform="translate(1510.54,687.40) scale(0.7168,0.4480)" vector-effect="non-scaling-stroke" stroke-width="0">−</text>
<text class="r" transform="translate(1552.20,686.70) scale(0.5428,0.5492)" vector-effect="non-scaling-stroke" stroke-width="0">2</text>
<text class="r" transform="translate(1510.54,913.40) scale(0.7168,0.4480)" vector-effect="non-scaling-stroke" stroke-width="0">−</text>
<text class="r" transform="translate(1552.70,912.60) scale(0.5120,0.5581)" vector-effect="non-scaling-stroke" stroke-width="0">4</text>
<text class="i" transform="translate(424.95,1109.33) scale(0.6147,0.5275)" vector-effect="non-scaling-stroke" stroke-width="0.65">r</text>
<text class="r" transform="translate(455.65,1113.12) scale(0.3285,0.6530)" vector-effect="non-scaling-stroke" stroke-width="0">[</text>
<text class="r" transform="translate(467.02,1109.19) scale(0.5723,0.5530)" vector-effect="non-scaling-stroke" stroke-width="0.38">kpc</text>
<text class="r" transform="translate(549.89,1113.12) scale(0.3243,0.6530)" vector-effect="non-scaling-stroke" stroke-width="0">]</text>
<text class="i" transform="translate(1009.86,1111.88) scale(0.4343,0.4984)" vector-effect="non-scaling-stroke" stroke-width="0.32">ϵ</text>
<text class="r" transform="translate(1070.27,1117.02) scale(0.3243,0.6530)" vector-effect="non-scaling-stroke" stroke-width="0">[</text>
<text class="r" transform="translate(1084.44,1113.13) scale(0.4658,0.5977)" vector-effect="non-scaling-stroke" stroke-width="0">(</text>
<text class="r" transform="translate(1102.22,1112.10) scale(0.5639,0.5403)" vector-effect="non-scaling-stroke" stroke-width="0.39">km</text>
<text class="r" transform="translate(1182.88,1111.99) scale(0.5769,0.5286)" vector-effect="non-scaling-stroke" stroke-width="0.43">s</text>
<text class="r" transform="translate(1205.96,1094.12) scale(0.4992,0.3680)" vector-effect="non-scaling-stroke" stroke-width="0">−</text>
<text class="r" transform="translate(1235.70,1092.30) scale(0.3333,0.3810)" vector-effect="non-scaling-stroke" stroke-width="0">1</text>
<text class="r" transform="translate(1257.53,1113.13) scale(0.4706,0.5977)" vector-effect="non-scaling-stroke" stroke-width="0">)</text>
<text class="r" transform="translate(1277.39,1092.30) scale(0.3864,0.3736)" vector-effect="non-scaling-stroke" stroke-width="0">2</text>
<text class="r" transform="translate(1298.29,1117.02) scale(0.3243,0.6530)" vector-effect="non-scaling-stroke" stroke-width="0">]</text>
<text class="i" transform="translate(46.29,679.70) rotate(-90) scale(0.5477,0.5266)" vector-effect="non-scaling-stroke" stroke-width="0.43">ρ</text>
<text class="r" transform="translate(46.05,651.13) rotate(-90) scale(0.4587,0.5966)" vector-effect="non-scaling-stroke" stroke-width="0">(</text>
<text class="i" transform="translate(46.31,635.13) rotate(-90) scale(0.6115,0.5291)" vector-effect="non-scaling-stroke" stroke-width="0.63">r</text>
<text class="r" transform="translate(46.05,607.05) rotate(-90) scale(0.4969,0.5966)" vector-effect="non-scaling-stroke" stroke-width="0">)</text>
<text class="r" transform="translate(49.93,547.80) rotate(-90) scale(0.3435,0.6519)" vector-effect="non-scaling-stroke" stroke-width="0">[</text>
<text class="r" transform="translate(46.15,535.67) rotate(-90) scale(0.5260,0.5836)" vector-effect="non-scaling-stroke" stroke-width="0.3">M</text>
<text class="d" transform="translate(57.03,488.25) rotate(-90) scale(0.3840,0.3989)" vector-effect="non-scaling-stroke" stroke-width="0.9">⊙</text>
<text class="r" transform="translate(46.19,446.29) rotate(-90) scale(0.5751,0.5558)" vector-effect="non-scaling-stroke" stroke-width="0.38">kpc</text>
<text class="r" transform="translate(28.03,362.25) rotate(-90) scale(0.5013,0.3680)" vector-effect="non-scaling-stroke" stroke-width="0">−</text>
<text class="r" transform="translate(26.30,333.79) rotate(-90) scale(0.3816,0.3840)" vector-effect="non-scaling-stroke" stroke-width="0">3</text>
<text class="r" transform="translate(49.93,312.04) rotate(-90) scale(0.3328,0.6519)" vector-effect="non-scaling-stroke" stroke-width="0">]</text>
<text class="i" transform="translate(1638.01,808.87) rotate(-90) scale(0.7047,0.5465)" vector-effect="non-scaling-stroke" stroke-width="0.93">f</text>
<text class="r" transform="translate(1638.85,774.81) rotate(-90) scale(0.4516,0.5966)" vector-effect="non-scaling-stroke" stroke-width="0">(</text>
<text class="i" transform="translate(1638.78,756.17) rotate(-90) scale(0.4478,0.5088)" vector-effect="non-scaling-stroke" stroke-width="0.34">ϵ</text>
<text class="r" transform="translate(1638.85,734.85) rotate(-90) scale(0.4969,0.5966)" vector-effect="non-scaling-stroke" stroke-width="0">)</text>
<text class="r" transform="translate(1642.73,675.03) rotate(-90) scale(0.3243,0.6519)" vector-effect="non-scaling-stroke" stroke-width="0">[</text>
<text class="r" transform="translate(1638.95,663.17) rotate(-90) scale(0.5236,0.5867)" vector-effect="non-scaling-stroke" stroke-width="0.3">M</text>
<text class="d" transform="translate(1649.83,617.00) rotate(-90) scale(0.4033,0.3989)" vector-effect="non-scaling-stroke" stroke-width="0.9">⊙</text>
<text class="r" transform="translate(1638.85,570.74) rotate(-90) scale(0.4622,0.5966)" vector-effect="non-scaling-stroke" stroke-width="0">(</text>
<text class="r" transform="translate(1638.96,552.94) rotate(-90) scale(0.5650,0.5621)" vector-effect="non-scaling-stroke" stroke-width="0.32">km</text>
<text class="r" transform="translate(1638.80,472.31) rotate(-90) scale(0.5739,0.5206)" vector-effect="non-scaling-stroke" stroke-width="0.43">s</text>
<text class="r" transform="translate(1621.97,448.95) rotate(-90) scale(0.5013,0.4000)" vector-effect="non-scaling-stroke" stroke-width="0">−</text>
<text class="r" transform="translate(1619.20,419.69) rotate(-90) scale(0.3440,0.4004)" vector-effect="non-scaling-stroke" stroke-width="0">1</text>
<text class="r" transform="translate(1638.85,397.85) rotate(-90) scale(0.4969,0.5966)" vector-effect="non-scaling-stroke" stroke-width="0">)</text>
<text class="r" transform="translate(1621.97,377.13) rotate(-90) scale(0.4971,0.4000)" vector-effect="non-scaling-stroke" stroke-width="0">−</text>
<text class="r" transform="translate(1619.08,348.90) rotate(-90) scale(0.3840,0.3985)" vector-effect="non-scaling-stroke" stroke-width="0">3</text>
<text class="r" transform="translate(1638.97,318.07) rotate(-90) scale(0.5728,0.5625)" vector-effect="non-scaling-stroke" stroke-width="0.35">kpc</text>
<text class="r" transform="translate(1621.97,234.07) rotate(-90) scale(0.5056,0.4000)" vector-effect="non-scaling-stroke" stroke-width="0">−</text>
<text class="r" transform="translate(1619.08,205.39) rotate(-90) scale(0.3816,0.3985)" vector-effect="non-scaling-stroke" stroke-width="0">3</text>
<text class="r" transform="translate(1642.73,183.83) rotate(-90) scale(0.3285,0.6519)" vector-effect="non-scaling-stroke" stroke-width="0">]</text>
<text class="s" transform="translate(473.90,74.50) scale(0.3844,0.4324)" vector-effect="non-scaling-stroke" stroke-width="0.0">Baryons</text>
<text class="r" transform="translate(629.57,75.17) scale(0.4267,0.4903)" vector-effect="non-scaling-stroke" stroke-width="0">(</text>
<text class="i" transform="translate(644.15,74.73) scale(0.5481,0.4143)" vector-effect="non-scaling-stroke" stroke-width="0.47">m</text>
<text class="r" transform="translate(693.86,76.08) scale(0.6272,0.3388)" vector-effect="non-scaling-stroke" stroke-width="0">=</text>
<text class="r" transform="translate(739.93,74.89) scale(0.4409,0.4540)" vector-effect="non-scaling-stroke" stroke-width="0">5</text>
<text class="r" transform="translate(763.06,75.17) scale(0.4292,0.4903)" vector-effect="non-scaling-stroke" stroke-width="0">)</text>
<text class="s" transform="translate(473.71,141.00) scale(0.4085,0.4167)" vector-effect="non-scaling-stroke" stroke-width="0.0">Potential</text>
<text class="s" transform="translate(649.04,141.84) scale(0.4291,0.4690)" vector-effect="non-scaling-stroke" stroke-width="0.0">(NFW)</text>
<text class="i" transform="translate(475.44,207.89) scale(0.4319,0.4213)" vector-effect="non-scaling-stroke" stroke-width="0.22">ρ</text>
<text class="i" transform="translate(496.23,214.70) scale(0.3090,0.2560)" vector-effect="non-scaling-stroke" stroke-width="0.0">p</text>
<text class="r" transform="translate(516.11,208.59) scale(0.3484,0.4849)" vector-effect="non-scaling-stroke" stroke-width="0">(</text>
<text class="i" transform="translate(529.16,207.85) scale(0.4749,0.4214)" vector-effect="non-scaling-stroke" stroke-width="0.31">r</text>
<text class="i" transform="translate(549.30,214.30) scale(0.3582,0.2917)" vector-effect="non-scaling-stroke" stroke-width="0.0">vir</text>
<text class="r" transform="translate(593.39,208.59) scale(0.3878,0.4849)" vector-effect="non-scaling-stroke" stroke-width="0">)</text>
<text class="i" transform="translate(241.99,892.25) scale(0.4722,0.4692)" vector-effect="non-scaling-stroke" stroke-width="0.29">M</text>
<text class="d" transform="translate(276.99,904.22) scale(0.3796,0.3952)" vector-effect="non-scaling-stroke" stroke-width="0.12">⋆</text>
<text class="r" transform="translate(300.10,902.28) scale(0.6436,0.6531)" vector-effect="non-scaling-stroke" stroke-width="1.0">/</text>
<text class="i" transform="translate(319.89,892.25) scale(0.4790,0.4695)" vector-effect="non-scaling-stroke" stroke-width="0.31">M</text>
<text class="i" transform="translate(360.46,898.66) scale(0.2981,0.2716)" vector-effect="non-scaling-stroke" stroke-width="0.0">p</text>
<text class="r" transform="translate(387.77,893.65) scale(0.6251,0.3765)" vector-effect="non-scaling-stroke" stroke-width="0">=</text>
<text class="s" transform="translate(423.00,892.10) scale(0.3841,0.4267)" vector-effect="non-scaling-stroke" stroke-width="0.0">1.2e-04</text>
<text class="i" transform="translate(1002.44,865.67) scale(0.5642,0.4386)" vector-effect="non-scaling-stroke" stroke-width="0.52">f</text>
<text class="r" transform="translate(1040.28,872.15) scale(0.5677,0.6071)" vector-effect="non-scaling-stroke" stroke-width="0.3">≥</text>
<text class="r" transform="translate(1084.83,866.11) scale(0.4389,0.4436)" vector-effect="non-scaling-stroke" stroke-width="0">0</text>
<text class="i" transform="translate(1002.74,930.27) scale(0.5642,0.4386)" vector-effect="non-scaling-stroke" stroke-width="0.52">f</text>
<text class="r" transform="translate(1039.34,935.70) scale(0.5801,0.5058)" vector-effect="non-scaling-stroke" stroke-width="0.49">&lt;</text>
<text class="r" transform="translate(1084.83,930.71) scale(0.4389,0.4422)" vector-effect="non-scaling-stroke" stroke-width="0">0</text>
</g>
</svg>
</body></html>
